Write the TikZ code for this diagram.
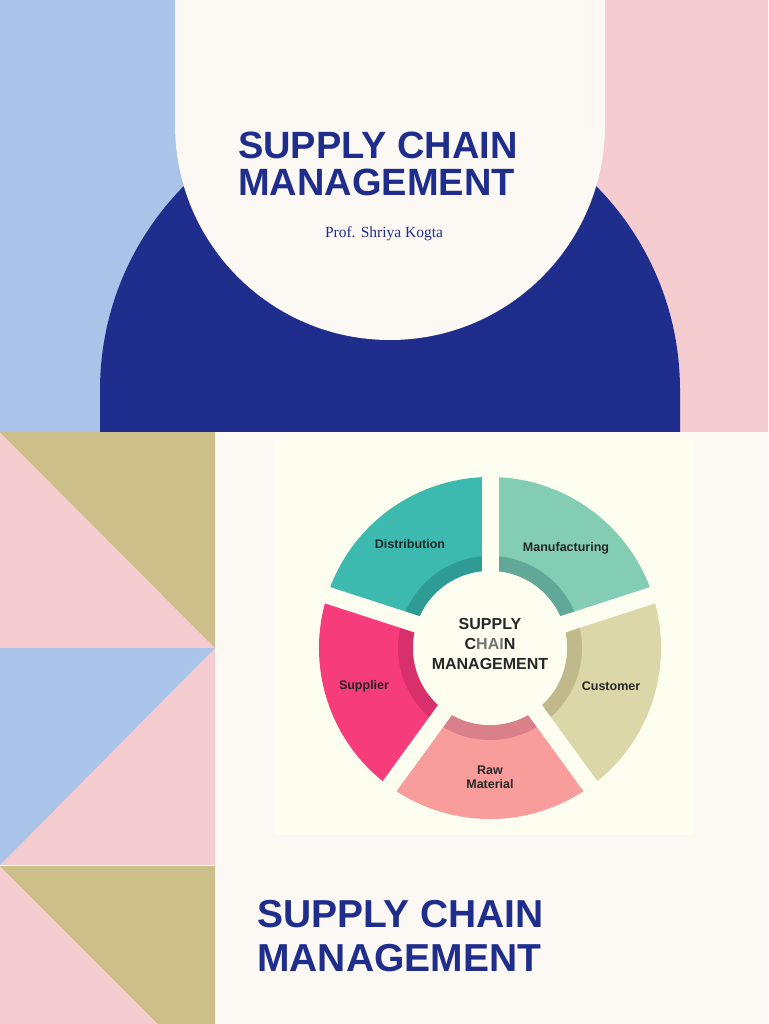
\documentclass[tikz,border=0pt]{standalone}
\usepackage{fontspec}
\setmainfont{Liberation Serif}
\setsansfont{Liberation Sans}
\begin{document}
\begin{tikzpicture}[x=1pt,y=-1pt]
\definecolor{navy}{HTML}{1F2E8C}
\definecolor{lblue}{HTML}{A9C4E8}
\definecolor{lpink}{HTML}{F5CDD0}
\definecolor{khaki}{HTML}{CCBF8A}
\definecolor{cream}{HTML}{FCF8F3}
\definecolor{imgbg}{HTML}{FDFDF0}
\definecolor{cA}{HTML}{3DBAB0}\definecolor{dA}{HTML}{2E9C94}
\definecolor{cB}{HTML}{82CDB4}\definecolor{dB}{HTML}{62A898}
\definecolor{cC}{HTML}{DCD7A8}\definecolor{dC}{HTML}{BFB98C}
\definecolor{cD}{HTML}{F89C9C}\definecolor{dD}{HTML}{D9808A}
\definecolor{cE}{HTML}{F73C7C}\definecolor{dE}{HTML}{D8306A}
\tikzset{title/.style={font=\sffamily\bfseries\fontsize{39}{44}\selectfont,text=navy,align=left,anchor=north west,inner sep=0pt},
lab/.style={font=\sffamily\bfseries\fontsize{12.5}{14}\selectfont,text=black!85,align=center}}
\useasboundingbox (0,0) rectangle (768,1024);
% top section
\fill[lblue] (0,0) rectangle (390,432);
\fill[lpink] (390,0) rectangle (768,432);
\fill[navy] (100,432) -- (100,390) arc[start angle=180,end angle=360,radius=290] -- (680,432) -- cycle;
\fill[cream] (175,0) -- (175,125) arc[start angle=180,end angle=0,radius=215] -- (605,0) -- cycle;
% bottom section
\fill[cream] (0,432) rectangle (768,1024);
\fill[lpink] (0,432) rectangle (215,648);
\fill[khaki] (0,432) -- (215,432) -- (215,648) -- cycle;
\fill[lpink] (0,648) rectangle (215,865);
\fill[lblue] (0,648) -- (215,648) -- (0,865) -- cycle;
\fill[lpink] (0,866) rectangle (215,1024);
\fill[khaki] (0,866) -- (215,866) -- (215,1024) -- (158,1024) -- cycle;
% titles
\node[title,font=\sffamily\bfseries\fontsize{38}{37}\selectfont] (t1) at (238,132) {SUPPLY CHAIN\\MANAGEMENT};
\node[font=\fontsize{15.5}{18}\selectfont,text=navy] (prof) at (384,234) {Prof. Shriya Kogta};
\node[title] (t2) at (257,900) {SUPPLY CHAIN\\MANAGEMENT};
% wheel image
\fill[imgbg] (275,440) rectangle (693,835);
\begin{scope}[shift={(490,648)},yscale=-1]
\foreach \a/\c/\d in {54/cB/dB,-18/cC/dC,-90/cD/dD,198/cE/dE,126/cA/dA}{
  \fill[\c] (\a-36:77) arc[start angle=\a-36,end angle=\a+36,radius=77] -- (\a+36:171) arc[start angle=\a+36,end angle=\a-36,radius=171] -- cycle;
  \fill[\d] (\a-36:77) arc[start angle=\a-36,end angle=\a+36,radius=77] -- (\a+36:92) arc[start angle=\a+36,end angle=\a-36,radius=92] -- cycle;
}
\foreach \g in {90,18,-54,-126,162}{\draw[imgbg,line width=17pt] (0,0) -- (\g:180);}
\fill[imgbg] (0,0) circle (77);
\end{scope}
\node[lab] (dist) at (410,544) {Distribution};
\node[lab] (manu) at (566,548) {Manufacturing};
\node[lab] (cust) at (611,686) {Customer};
\node[lab] (raw) at (490,777) {Raw\\Material};
\node[lab] (supp) at (364,686) {Supplier};
\node[font=\sffamily\bfseries\fontsize{16}{20}\selectfont,text=black!85,align=center] (ctr) at (490,644) {SUPPLY\\C{\color{black!55}HAI}N\\MANAGEMENT};
\end{tikzpicture}
\end{document}
